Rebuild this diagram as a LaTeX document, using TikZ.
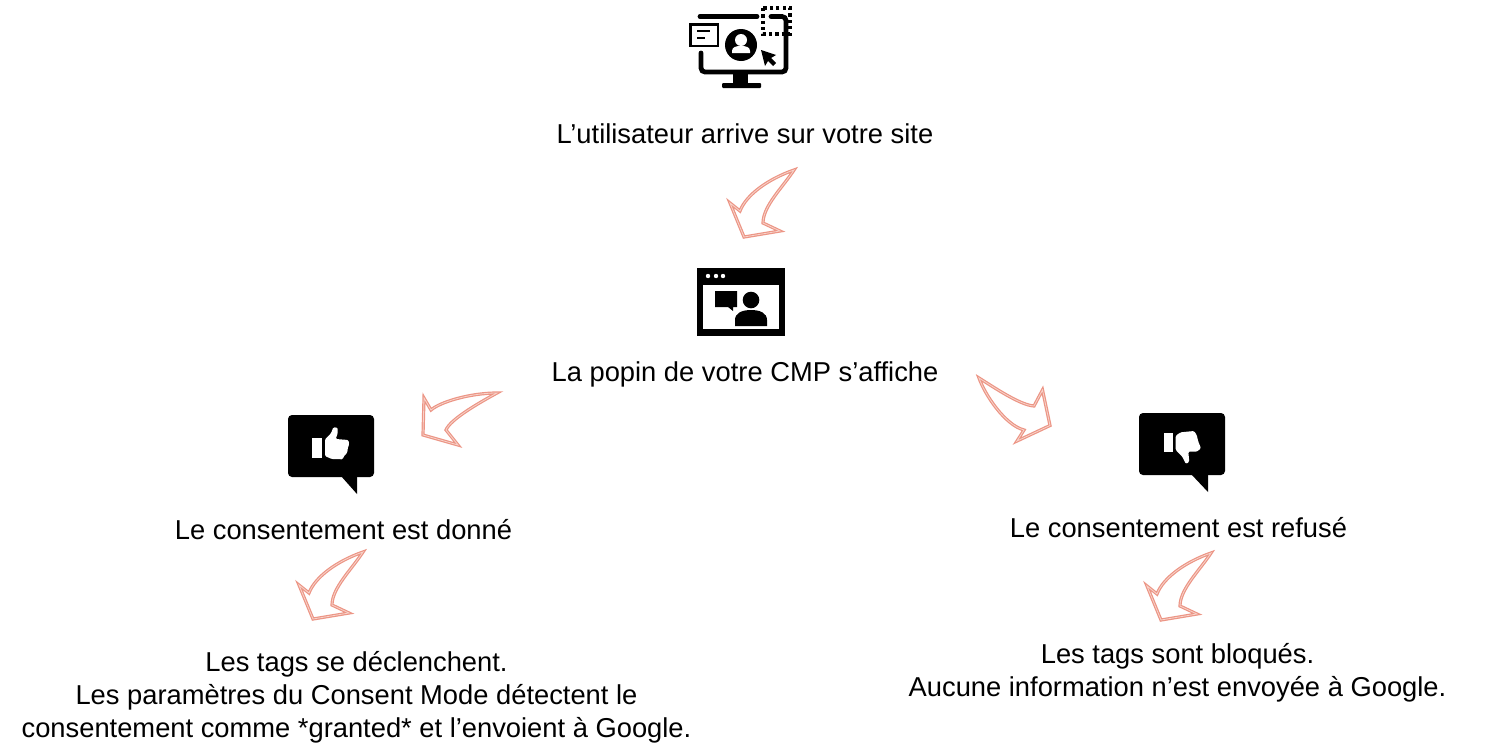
\documentclass[tikz,border=0pt]{standalone}
\usepackage{fontspec}
\setmainfont{Liberation Sans}
\usepackage{xcolor}
\usetikzlibrary{positioning}
\definecolor{arrowsalmon}{HTML}{EC9585}
\definecolor{arrowpale}{HTML}{F7D3CA}

\begin{document}
\begin{tikzpicture}[
  x=0.5pt, y=-0.5pt,
  caption/.style={inner sep=0pt, align=center, text=black, font=\fontsize{13.66}{16.5}\selectfont},
  bentarrow/.style={draw=arrowsalmon, line width=0.6pt, double=arrowpale, double distance=0.4pt, line join=miter, miter limit=8},
  ink/.style={fill=black, draw=none},
  cutout/.style={fill=white, draw=none},
  screenline/.style={draw=black, line width=2.4pt, line cap=round, rounded corners=2pt},
  curved/.pic={
    \path[bentarrow] (-2,2) .. controls (-28,11) and (-50,27) .. (-56,43) -- (-66,35) -- (-52,69) -- (-16,63) -- (-33,55)
      .. controls (-33,38) and (-13,19) .. cycle;
  },
]
  \useasboundingbox (0,0) rectangle (1500,750);

  % captions
  \node (site) [caption] at (745,134) {L’utilisateur arrive sur votre site};
  \node (popin) [caption, below=120pt of site.center, anchor=center] {La popin de votre CMP s’affiche};
  \node (granted) [caption] at (343.5,530) {Le consentement est donné};
  \node (refused) [caption] at (1178.5,528) {Le consentement est refusé};
  \node (tagsfire) [caption, below=83.5pt of granted.center, anchor=center, xshift=6.5pt] {Les tags se déclenchent.\\Les paramètres du Consent Mode détectent le\\consentement comme *granted* et l’envoient à Google.};
  \node (tagsblock) [caption, below=72.25pt of refused.center, anchor=center, xshift=-0.5pt] {Les tags sont bloqués.\\Aucune information n’est envoyée à Google.};

  % monitor icon
  \draw[screenline] (700,16.5) -- (757,16.5);
  \draw[screenline] (771,16.5) -- (786,16.5) -- (786,72) -- (701,72) -- (701,53);
  \fill[ink] (733,73) rectangle (748,84);
  \fill[ink, rounded corners=0.5pt] (722,83) rectangle (761,88);
  \draw[black, line width=1.6pt, dash pattern=on 1.6pt off 1.6pt] (763,8) rectangle (790,34);
  \draw[black, fill=white, line width=1.2pt] (690.5,24.5) rectangle (718,46);
  \draw[black, line width=1.3pt] (697,31) -- (710,31) (697,38) -- (705,38);
  \fill[ink] (741,45) circle (16);
  \fill[cutout] (741,40) circle (6);
  \fill[cutout] (732,53) -- (732,51) .. controls (732,47) and (736,46) .. (741,46) .. controls (746,46) and (750,47) .. (750,51) -- (750,53) -- cycle;
  \fill[ink] (761,50) -- (776,55) -- (771,58) -- (776,63) -- (773,66) -- (768,61) -- (765,66) -- cycle;

  % window icon
  \fill[ink] (697,268) rectangle (785,336);
  \fill[cutout] (703,285) rectangle (779,329);
  \foreach \dotx in {708,716,723}
    \fill[cutout] (\dotx,276) circle (2.2);
  \fill[ink] (715,291) -- (737,291) -- (737,307) -- (733,307) -- (733,311) -- (728,307) -- (715,307) -- cycle;
  \fill[ink] (751,300) circle (8.3);
  \fill[ink] (735,326) -- (735,320) .. controls (735,313) and (742,310) .. (751,310) .. controls (760,310) and (767,313) .. (767,320) -- (767,326) -- cycle;

  % thumb up
  \fill[ink, rounded corners=2pt] (288,415) rectangle (374,477);
  \fill[ink] (341,476) -- (357,494) -- (357,476) -- cycle;
  \fill[cutout] (312,438) rectangle (322,458);
  \fill[cutout, rounded corners=0.6pt] (325,439.3) -- (331,433.3) -- (333.3,427.3) -- (337.7,427.7) -- (337.7,433.3) -- (335.7,439) -- (348.3,440) -- (349.3,444) -- (347.7,448.3) -- (347.3,452.7) -- (344,456) -- (342.7,459.3) -- (331.7,459) -- (325,456) -- cycle;

  % thumb down
  \fill[ink, rounded corners=2pt] (1139,413) rectangle (1225,475);
  \fill[ink] (1191,474) -- (1208,492) -- (1208,474) -- cycle;
  \fill[cutout] (1164,433) rectangle (1173,452);
  \fill[cutout, rounded corners=0.6pt] (1175.7,435.7) -- (1180.7,432.3) -- (1194,431) -- (1196.7,435) -- (1198.3,441.7) -- (1201,448.3) -- (1196.7,451.7) -- (1188.3,451.7) -- (1189.3,461.7) -- (1186,464) -- (1182.3,456.7) -- (1175.7,450) -- cycle;

  % arrows
  \pic at (796,168) {curved};
  \pic at (365,550) {curved};
  \pic at (1213,551) {curved};
  \path[bentarrow] (497,393) .. controls (470,393) and (440,402) .. (431,410) -- (424,398) -- (423,435) -- (458,445) -- (446,430)
    .. controls (450,420) and (475,405) .. cycle;
  \path[bentarrow] (979,378) .. controls (995,388) and (1020,405) .. (1034,406) -- (1042.5,390) -- (1050,425.5) -- (1017,441) -- (1024,430)
    .. controls (1005,425) and (985,395) .. cycle;
\end{tikzpicture}
\end{document}
